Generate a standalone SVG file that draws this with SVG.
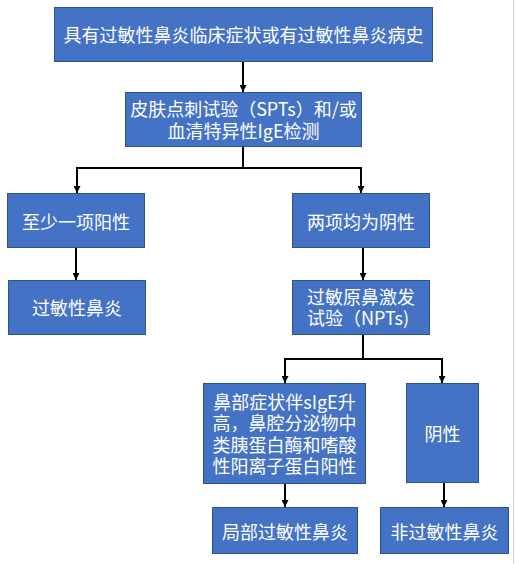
<svg xmlns="http://www.w3.org/2000/svg" width="515" height="564" viewBox="0 0 515 564">
<defs>
<marker id="ah" viewBox="0 0 8 8" refX="8" refY="4" markerWidth="7" markerHeight="7" markerUnits="userSpaceOnUse" orient="auto">
<path d="M0,0 L8,4 L0,8 z" fill="#000"/>
</marker>
<style>
.box{fill:#4472C4;stroke:#2F528F;stroke-width:1}
.t{font-family:"Microsoft YaHei","Noto Sans CJK SC","Noto Sans",sans-serif;font-size:18px;fill:#fff}
.m{text-anchor:middle}
.c{fill:none;stroke:#000;stroke-width:2}
</style>
</defs>
<rect x="0" y="0" width="515" height="564" fill="#fff"/>
<line x1="513.5" y1="0" x2="513.5" y2="564" stroke="#d4d4d4" stroke-width="1"/>
<g id="connectors">
<path class="c" d="M243,61 V92" marker-end="url(#ah)"/>
<path class="c" d="M243,146 V168"/>
<path class="c" d="M76,168 H362"/>
<path class="c" d="M77,167 V193" marker-end="url(#ah)"/>
<path class="c" d="M361,167 V193" marker-end="url(#ah)"/>
<path class="c" d="M76,247 V280" marker-end="url(#ah)"/>
<path class="c" d="M363,247 V280" marker-end="url(#ah)"/>
<path class="c" d="M363,334 V359"/>
<path class="c" d="M284,359 H443"/>
<path class="c" d="M285,358 V383" marker-end="url(#ah)"/>
<path class="c" d="M442,358 V383" marker-end="url(#ah)"/>
<path class="c" d="M285,483 V507" marker-end="url(#ah)"/>
<path class="c" d="M444,482 V507" marker-end="url(#ah)"/>
</g>
<g id="n1">
<rect class="box" x="54.5" y="7.5" width="378" height="54"/>
<text class="t m" x="243.5" y="41.5">具有过敏性鼻炎临床症状或有过敏性鼻炎病史</text>
</g>
<g id="n2">
<rect class="box" x="125.5" y="92.5" width="236" height="54"/>
<text class="t m" x="243.5" y="115.5">皮肤点刺试验（SPTs）和/或</text>
<text class="t m" x="243.5" y="137.5">血清特异性IgE检测</text>
</g>
<g id="n3">
<rect class="box" x="7.5" y="193.5" width="137" height="54"/>
<text class="t m" x="76" y="228.5">至少一项阳性</text>
</g>
<g id="n4">
<rect class="box" x="292.5" y="193.5" width="137" height="54"/>
<text class="t m" x="361" y="228.5">两项均为阴性</text>
</g>
<g id="n5">
<rect class="box" x="8.5" y="280.5" width="137" height="54"/>
<text class="t m" x="77" y="314.5">过敏性鼻炎</text>
</g>
<g id="n6">
<rect class="box" x="292.5" y="280.5" width="137" height="54"/>
<text class="t" x="307" y="303.5">过敏原鼻激发</text>
<text class="t" x="307" y="324.5">试验（NPTs)</text>
</g>
<g id="n7">
<rect class="box" x="203.5" y="383.5" width="162" height="100"/>
<text class="t m" x="284.5" y="408.5">鼻部症状伴sIgE升</text>
<text class="t m" x="284.5" y="430">高，鼻腔分泌物中</text>
<text class="t m" x="284.5" y="451.5">类胰蛋白酶和嗜酸</text>
<text class="t m" x="284.5" y="473">性阳离子蛋白阳性</text>
</g>
<g id="n8">
<rect class="box" x="406.5" y="383.5" width="72" height="99"/>
<text class="t m" x="442.5" y="440.5">阴性</text>
</g>
<g id="n9">
<rect class="box" x="212.5" y="507.5" width="145" height="46"/>
<text class="t m" x="285" y="538.5">局部过敏性鼻炎</text>
</g>
<g id="n10">
<rect class="box" x="380.5" y="507.5" width="128" height="46"/>
<text class="t m" x="444.5" y="538.5">非过敏性鼻炎</text>
</g>
</svg>
